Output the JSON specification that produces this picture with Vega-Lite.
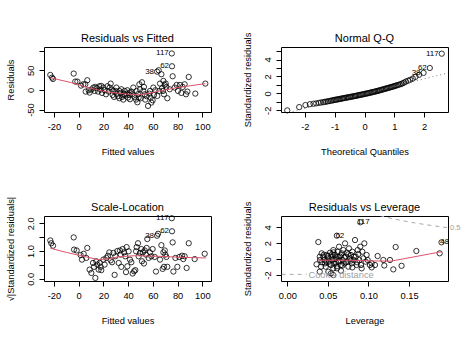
{
  "$schema": "https://vega.github.io/schema/vega-lite/v6.json",
  "padding": {"left": 5, "top": 31, "right": 0, "bottom": 0},
  "columns": 2,
  "spacing": {"row": 104, "column": 70},
  "bounds": "flush",
  "datasets": {
    "rvf": [
      {"x":-22.9,"y":38.1},{"x":-21.5,"y":31.3},{"x":-20.7,"y":27.9},{"x":-4.0,"y":41.5},{"x":-2.7,"y":21.2},{"x":-1.0,"y":21.2},{"x":1.9,"y":11.0},{"x":3.8,"y":14.4},{"x":5.4,"y":14.4},{"x":7.0,"y":24.6},{"x":5.7,"y":-4.2},{"x":8.1,"y":-0.8},{"x":10.3,"y":0.9},{"x":11.9,"y":6.0},{"x":13.5,"y":7.6},{"x":14.6,"y":4.3},{"x":15.7,"y":-4.2},{"x":16.7,"y":9.3},{"x":17.8,"y":0.9},{"x":18.9,"y":-7.6},{"x":20.0,"y":6.0},{"x":21.0,"y":-0.8},{"x":22.1,"y":-11.0},{"x":23.2,"y":9.3},{"x":24.3,"y":-4.2},{"x":25.9,"y":16.1},{"x":27.0,"y":0.9},{"x":27.5,"y":-12.7},{"x":28.6,"y":-17.7},{"x":29.7,"y":-2.5},{"x":30.7,"y":-9.3},{"x":31.8,"y":-16.0},{"x":32.9,"y":-21.1},{"x":34.0,"y":-7.6},{"x":35.1,"y":-17.7},{"x":36.1,"y":-24.5},{"x":37.2,"y":-2.5},{"x":37.7,"y":-14.3},{"x":38.8,"y":-9.3},{"x":39.9,"y":-19.4},{"x":41.0,"y":-12.7},{"x":42.6,"y":-4.2},{"x":44.2,"y":6.0},{"x":45.3,"y":-17.7},{"x":46.4,"y":-24.5},{"x":47.5,"y":-31.3},{"x":48.0,"y":-11.0},{"x":49.1,"y":14.4},{"x":50.1,"y":-21.1},{"x":51.2,"y":19.5},{"x":52.3,"y":-2.5},{"x":52.8,"y":7.6},{"x":53.9,"y":-24.5},{"x":55.0,"y":-16.0},{"x":56.1,"y":-40.6},{"x":57.2,"y":-9.3},{"x":58.2,"y":-19.4},{"x":59.8,"y":-26.2},{"x":60.9,"y":-12.7},{"x":62.0,"y":-0.8},{"x":63.4,"y":46.5,"lab":"38"},{"x":64.7,"y":49.9},{"x":65.8,"y":16.1},{"x":66.9,"y":39.8},{"x":67.4,"y":4.3},{"x":68.5,"y":22.9},{"x":69.0,"y":-11.0},{"x":69.6,"y":12.7},{"x":70.4,"y":16.1},{"x":70.9,"y":7.6},{"x":71.7,"y":-21.1},{"x":75.5,"y":60.1,"lab":"62"},{"x":75.3,"y":92.6,"lab":"117"},{"x":76.0,"y":34.7},{"x":77.6,"y":6.0},{"x":79.2,"y":12.7},{"x":80.3,"y":-2.5},{"x":81.9,"y":12.7},{"x":83.0,"y":-7.6},{"x":84.1,"y":7.6},{"x":85.7,"y":14.4},{"x":86.8,"y":-11.0},{"x":87.9,"y":-4.2},{"x":89.0,"y":33.0},{"x":94.3,"y":-9.3},{"x":102.4,"y":16.1},
      {"x":8.9,"y":-6.7},{"x":13.0,"y":-2.5},{"x":18.3,"y":10.2},{"x":25.1,"y":6.0},{"x":30.5,"y":6.0},{"x":34.5,"y":1.7},{"x":36.7,"y":-11.0},{"x":39.4,"y":-0.8},{"x":41.5,"y":-23.7},{"x":43.4,"y":-11.0},{"x":46.9,"y":-2.5},{"x":49.6,"y":1.7},{"x":53.4,"y":-11.0},{"x":57.7,"y":-2.5},{"x":58.8,"y":-32.1},{"x":60.4,"y":6.0},{"x":63.6,"y":-15.2},{"x":65.2,"y":-2.5},{"x":73.6,"y":1.7},{"x":68.2,"y":-2.5},{"x":48.5,"y":-19.4},{"x":28.1,"y":-2.5},{"x":32.9,"y":-2.5},{"x":41.3,"y":-6.7}
    ],
    "rvfLine": [
      {"x":-22.9,"y":31},{"x":-5.9,"y":18.6},{"x":7.6,"y":6},{"x":21,"y":-4},{"x":34.5,"y":-9.3},{"x":48,"y":-12.5},{"x":56,"y":-9},{"x":65,"y":-3},{"x":80,"y":6},{"x":102.4,"y":16}
    ],
    "qq": [
      {"x":-2.59,"y":-2.01},{"x":-2.19,"y":-1.62},{"x":-1.98,"y":-1.38},{"x":-1.83,"y":-1.28},{"x":-1.71,"y":-1.22},{"x":-1.62,"y":-1.18},{"x":-1.53,"y":-1.12},{"x":-1.46,"y":-1.08},{"x":-1.39,"y":-1.04},{"x":-1.33,"y":-1.0},{"x":-1.28,"y":-0.97},{"x":-1.23,"y":-0.94},{"x":-1.18,"y":-0.9},{"x":-1.13,"y":-0.87},{"x":-1.08,"y":-0.83},{"x":-1.04,"y":-0.8},{"x":-1.0,"y":-0.77},{"x":-0.96,"y":-0.74},{"x":-0.92,"y":-0.72},{"x":-0.88,"y":-0.69},{"x":-0.84,"y":-0.67},{"x":-0.8,"y":-0.64},{"x":-0.76,"y":-0.61},{"x":-0.72,"y":-0.58},{"x":-0.68,"y":-0.55},{"x":-0.64,"y":-0.53},{"x":-0.6,"y":-0.5},{"x":-0.56,"y":-0.47},{"x":-0.52,"y":-0.45},{"x":-0.48,"y":-0.42},{"x":-0.44,"y":-0.39},{"x":-0.4,"y":-0.37},{"x":-0.36,"y":-0.34},{"x":-0.32,"y":-0.31},{"x":-0.28,"y":-0.28},{"x":-0.24,"y":-0.25},{"x":-0.2,"y":-0.22},{"x":-0.16,"y":-0.19},{"x":-0.12,"y":-0.16},{"x":-0.08,"y":-0.13},{"x":-0.04,"y":-0.1},{"x":0,"y":-0.07},{"x":0.04,"y":-0.04},{"x":0.08,"y":-0.01},{"x":0.12,"y":0.02},{"x":0.16,"y":0.05},{"x":0.2,"y":0.09},{"x":0.24,"y":0.12},{"x":0.28,"y":0.15},{"x":0.32,"y":0.19},{"x":0.36,"y":0.22},{"x":0.4,"y":0.26},{"x":0.44,"y":0.29},{"x":0.48,"y":0.33},{"x":0.52,"y":0.37},{"x":0.56,"y":0.41},{"x":0.6,"y":0.45},{"x":0.64,"y":0.49},{"x":0.68,"y":0.53},{"x":0.72,"y":0.57},{"x":0.76,"y":0.61},{"x":0.8,"y":0.65},{"x":0.84,"y":0.69},{"x":0.88,"y":0.73},{"x":0.92,"y":0.77},{"x":0.96,"y":0.81},{"x":1.0,"y":0.86},{"x":1.04,"y":0.9},{"x":1.08,"y":0.95},{"x":1.13,"y":1.0},{"x":1.18,"y":1.06},{"x":1.23,"y":1.1},{"x":1.28,"y":1.2},{"x":1.33,"y":1.28},{"x":1.39,"y":1.4},{"x":1.46,"y":1.5},{"x":1.53,"y":1.6},{"x":1.62,"y":1.75},{"x":1.71,"y":1.95},{"x":1.83,"y":2.2},{"x":1.98,"y":2.42,"lab":"38"},{"x":2.19,"y":3.0,"lab":"62"},{"x":2.59,"y":4.69,"lab":"117"}
    ],
    "qqLine": [{"x":-2.8,"y":-2.48},{"x":2.8,"y":2.42}],
    "sl": [
      {"x":-22.9,"y":1.38},{"x":-22.1,"y":1.28},{"x":-20.7,"y":1.19},{"x":-4.0,"y":1.49},{"x":-3.7,"y":1.05},{"x":-1.6,"y":1.02},{"x":1.6,"y":0.855},{"x":2.7,"y":0.69},{"x":4.1,"y":0.9},{"x":7.0,"y":1.11},{"x":6.2,"y":0.75},{"x":8.9,"y":0.33},{"x":10.3,"y":0.21},{"x":11.6,"y":0.57},{"x":12.4,"y":0.43},{"x":13.5,"y":0.03},{"x":14.3,"y":0.63},{"x":15.1,"y":0.51},{"x":16.2,"y":0.33},{"x":17.0,"y":0.57},{"x":17.8,"y":0.43},{"x":18.3,"y":0.31},{"x":20.0,"y":0.69},{"x":21.0,"y":0.51},{"x":22.4,"y":0.75},{"x":23.7,"y":0.83},{"x":24.8,"y":0.95},{"x":25.9,"y":0.665},{"x":27.0,"y":0.595},{"x":28.1,"y":0.93},{"x":29.1,"y":0.14},{"x":29.7,"y":0.81},{"x":31.3,"y":1.0},{"x":32.4,"y":0.57},{"x":33.4,"y":1.02},{"x":34.0,"y":0.87},{"x":34.5,"y":0.43},{"x":35.6,"y":1.07},{"x":36.7,"y":0.95},{"x":37.7,"y":0.81},{"x":38.3,"y":0.24},{"x":38.8,"y":1.14},{"x":39.4,"y":0.45},{"x":40.4,"y":0.99},{"x":41.5,"y":0.69},{"x":42.6,"y":0.595},{"x":43.7,"y":0.19},{"x":44.8,"y":0.27},{"x":45.8,"y":0.31},{"x":46.4,"y":0.99},{"x":46.9,"y":1.14},{"x":48.0,"y":1.28},{"x":48.5,"y":0.81},{"x":49.6,"y":0.93},{"x":50.7,"y":1.07},{"x":51.2,"y":0.63},{"x":52.0,"y":0.95},{"x":52.8,"y":0.55},{"x":53.4,"y":1.02},{"x":54.5,"y":0.87},{"x":55.0,"y":1.11},{"x":55.5,"y":1.43},{"x":56.6,"y":0.75},{"x":57.7,"y":0.95},{"x":58.8,"y":0.81},{"x":59.8,"y":1.07},{"x":61.5,"y":0.785},{"x":62.5,"y":0.26},{"x":63.4,"y":1.55,"lab":"38"},{"x":64.2,"y":1.62},{"x":65.8,"y":0.69},{"x":66.9,"y":1.21},{"x":67.9,"y":0.355},{"x":68.5,"y":0.95},{"x":69.0,"y":0.43},{"x":69.6,"y":1.02},{"x":70.1,"y":0.87},{"x":70.9,"y":0.785},{"x":71.7,"y":0.43},{"x":75.5,"y":1.71,"lab":"62"},{"x":75.3,"y":2.18,"lab":"117"},{"x":76.0,"y":1.31},{"x":76.6,"y":0.26},{"x":78.2,"y":0.75},{"x":79.8,"y":0.43},{"x":81.4,"y":0.785},{"x":83.6,"y":0.83},{"x":84.6,"y":0.71},{"x":85.7,"y":0.81},{"x":87.3,"y":0.39},{"x":89.0,"y":1.28},{"x":93.8,"y":0.71},{"x":101.9,"y":0.9}
    ],
    "slLine": [
      {"x":-22.9,"y":1.1},{"x":-10,"y":0.95},{"x":0,"y":0.85},{"x":15.7,"y":0.69},{"x":25,"y":0.72},{"x":31.8,"y":0.79},{"x":45,"y":0.83},{"x":56,"y":0.82},{"x":70,"y":0.8},{"x":85,"y":0.77},{"x":103,"y":0.75}
    ],
    "rvl": [
      {"x":0.0900,"y":4.63,"lab":"117"},{"x":0.0610,"y":2.95,"lab":"62"},{"x":0.190,"y":2.11,"lab":"48"},{"x":0.0382,"y":2.15},{"x":0.1877,"y":0.73},{"x":0.159,"y":1.02},{"x":0.1335,"y":1.52},{"x":0.1113,"y":0.39},{"x":0.1183,"y":-0.11},{"x":0.1265,"y":-0.11},{"x":0.1195,"y":-0.8},{"x":0.1306,"y":-1.29},{"x":0.1408,"y":-0.84},{"x":0.108,"y":-0.74},{"x":0.1039,"y":-1.04},
      {"x":0.0423,"y":0.73},{"x":0.0444,"y":0.31},{"x":0.0456,"y":-0.11},{"x":0.0464,"y":-0.53},{"x":0.0473,"y":-0.95},{"x":0.0485,"y":0.52},{"x":0.0505,"y":0.1},{"x":0.0514,"y":-0.32},{"x":0.0526,"y":0.81},{"x":0.0538,"y":-0.74},{"x":0.0546,"y":0.31},{"x":0.0555,"y":-0.11},{"x":0.0567,"y":1.14},{"x":0.0579,"y":-0.53},{"x":0.0587,"y":0.52},{"x":0.06,"y":0.1},{"x":0.0612,"y":-1.16},{"x":0.062,"y":0.93},{"x":0.0628,"y":-0.32},{"x":0.0637,"y":1.56},{"x":0.0649,"y":0.31},{"x":0.0661,"y":-0.74},{"x":0.067,"y":0.73},{"x":0.0682,"y":-0.11},{"x":0.069,"y":1.14},{"x":0.0702,"y":-0.53},{"x":0.0711,"y":1.98},{"x":0.0719,"y":0.31},{"x":0.0731,"y":0.81},{"x":0.0743,"y":-0.32},{"x":0.0752,"y":-0.95},{"x":0.076,"y":1.35},{"x":0.0772,"y":0.1},{"x":0.0784,"y":0.52},{"x":0.0793,"y":-0.53},{"x":0.0801,"y":0.93},{"x":0.0817,"y":-0.11},{"x":0.0834,"y":2.4},{"x":0.0842,"y":0.31},{"x":0.0854,"y":-0.74},{"x":0.0867,"y":1.14},{"x":0.0875,"y":0.64},{"x":0.0887,"y":-0.11},{"x":0.0899,"y":1.56},{"x":0.0908,"y":-0.74},{"x":0.0924,"y":0.93},{"x":0.0936,"y":0.1},{"x":0.0949,"y":1.98},{"x":0.0965,"y":-0.32},{"x":0.0977,"y":0.52},{"x":0.099,"y":-0.11},{"x":0.1018,"y":-0.74},{"x":0.1039,"y":-0.53},
      {"x":0.0505,"y":-1.58},{"x":0.0538,"y":-1.79},{"x":0.0567,"y":-1.16},{"x":0.0661,"y":-1.46},{"x":0.0801,"y":-1.04},{"x":0.0916,"y":-1.16},{"x":0.0567,"y":-2.0},{"x":0.0403,"y":-0.11},{"x":0.0415,"y":-0.95},{"x":0.0399,"y":-1.58},{"x":0.036,"y":-0.65},
      {"x":0.045,"y":0.55},{"x":0.048,"y":-0.3},{"x":0.05,"y":0.4},{"x":0.052,"y":-0.6},{"x":0.055,"y":0.6},{"x":0.058,"y":0.0},{"x":0.06,"y":-0.4},{"x":0.062,"y":0.3},{"x":0.064,"y":-0.2},{"x":0.066,"y":0.5},{"x":0.068,"y":-0.8},{"x":0.07,"y":0.2},{"x":0.072,"y":-0.4},{"x":0.075,"y":0.6},{"x":0.078,"y":-0.2},{"x":0.082,"y":0.3},{"x":0.086,"y":-0.4},{"x":0.04,"y":0.3},{"x":0.043,"y":-0.4},{"x":0.057,"y":0.85},{"x":0.061,"y":-0.9}
    ],
    "rvlLine": [{"x":0.038,"y":-0.15},{"x":0.06,"y":-0.12},{"x":0.08,"y":-0.15},{"x":0.1,"y":-0.22},{"x":0.128,"y":-0.25},{"x":0.19,"y":0.93}],
    "cook": [{"x":0.105,"y":5.74},{"x":0.115,"y":5.44},{"x":0.13,"y":5.08},{"x":0.15,"y":4.67},{"x":0.17,"y":4.34},{"x":0.19,"y":4.05},{"x":0.198,"y":3.95}]
  },
  "concat": [
    {
      "width": 167, "height": 65,
      "title": {"text": "Residuals vs Fitted"},
      "layer": [
        {"data": {"name": "rvf"},
         "mark": {"type": "point", "shape": "circle", "filled": false, "color": "black", "size": 28, "strokeWidth": 0.8, "opacity": 1},
         "encoding": {
           "x": {"field": "x", "type": "quantitative", "title": "Fitted values", "scale": {"domain": [-28, 107], "nice": false, "zero": false}, "axis": {"values": [-20, 0, 20, 40, 60, 80, 100], "tickCount": 30, "format": "d", "labelExpr": "replace(datum.label, '−', '-')"}},
           "y": {"field": "y", "type": "quantitative", "title": "Residuals", "scale": {"domain": [-56, 109], "nice": false, "zero": false}, "axis": {"values": [-50, 0, 50, 100], "tickCount": 30, "format": "d", "labelExpr": "datum.value == 100 ? '' : replace(datum.label, '−', '-')", "labelAngle": 270, "labelAlign": "center", "labelBaseline": "bottom"}}
         }},
        {"mark": {"type": "rule", "color": "#BEBEBE", "strokeDash": [1, 3]},
         "encoding": {"y": {"datum": 0, "type": "quantitative", "scale": {"domain": [-56, 109], "nice": false, "zero": false}}}},
        {"data": {"name": "rvfLine"},
         "mark": {"type": "line", "color": "#DF536B", "strokeWidth": 1},
         "encoding": {
           "x": {"field": "x", "type": "quantitative", "title": "Fitted values", "scale": {"domain": [-28, 107], "nice": false, "zero": false}},
           "y": {"field": "y", "type": "quantitative", "title": "Residuals", "scale": {"domain": [-56, 109], "nice": false, "zero": false}}
         }},
        {"data": {"name": "rvf"},
         "transform": [{"filter": "datum.lab"}],
         "mark": {"type": "text", "align": "right", "baseline": "middle", "dx": -3, "fontSize": 8, "color": "black"},
         "encoding": {
           "x": {"field": "x", "type": "quantitative", "title": "Fitted values", "scale": {"domain": [-28, 107], "nice": false, "zero": false}},
           "y": {"field": "y", "type": "quantitative", "title": "Residuals", "scale": {"domain": [-56, 109], "nice": false, "zero": false}},
           "text": {"field": "lab"}
         }}
      ]
    },
    {
      "width": 167, "height": 65,
      "title": {"text": "Normal Q-Q", "dy": 15},
      "layer": [
        {"data": {"name": "qq"},
         "mark": {"type": "point", "shape": "circle", "filled": false, "color": "black", "size": 28, "strokeWidth": 0.8, "opacity": 1},
         "encoding": {
           "x": {"field": "x", "type": "quantitative", "title": "Theoretical Quantiles", "scale": {"domain": [-2.8, 2.8], "nice": false, "zero": false}, "axis": {"values": [-2, -1, 0, 1, 2], "tickCount": 30, "format": "d", "labelExpr": "replace(datum.label, '−', '-')"}},
           "y": {"field": "y", "type": "quantitative", "title": "Standardized residuals", "scale": {"domain": [-2.2, 5.48], "nice": false, "zero": false}, "axis": {"values": [-2, -1, 0, 1, 2, 3, 4, 5], "tickCount": 30, "format": "d", "labelExpr": "datum.value % 2 == 0 ? replace(datum.label, '−', '-') : ''", "labelAngle": 270, "labelAlign": "center", "labelBaseline": "bottom"}}
         }},
        {"data": {"name": "qqLine"},
         "mark": {"type": "line", "color": "#7F7F7F", "strokeDash": [1, 3], "strokeWidth": 1, "clip": true},
         "encoding": {
           "x": {"field": "x", "type": "quantitative", "title": "Theoretical Quantiles", "scale": {"domain": [-2.8, 2.8], "nice": false, "zero": false}},
           "y": {"field": "y", "type": "quantitative", "title": "Standardized residuals", "scale": {"domain": [-2.2, 5.48], "nice": false, "zero": false}}
         }},
        {"data": {"name": "qq"},
         "transform": [{"filter": "datum.lab"}],
         "mark": {"type": "text", "align": "right", "baseline": "middle", "dx": -3, "fontSize": 8, "color": "black"},
         "encoding": {
           "x": {"field": "x", "type": "quantitative", "title": "Theoretical Quantiles", "scale": {"domain": [-2.8, 2.8], "nice": false, "zero": false}},
           "y": {"field": "y", "type": "quantitative", "title": "Standardized residuals", "scale": {"domain": [-2.2, 5.48], "nice": false, "zero": false}},
           "text": {"field": "lab"}
         }}
      ]
    },
    {
      "width": 167, "height": 65,
      "title": {"text": "Scale-Location", "dy": 20},
      "layer": [
        {"data": {"name": "sl"},
         "mark": {"type": "point", "shape": "circle", "filled": false, "color": "black", "size": 28, "strokeWidth": 0.8, "opacity": 1},
         "encoding": {
           "x": {"field": "x", "type": "quantitative", "title": "Fitted values", "scale": {"domain": [-28, 107], "nice": false, "zero": false}, "axis": {"values": [-20, 0, 20, 40, 60, 80, 100], "tickCount": 30, "format": "d", "labelExpr": "replace(datum.label, '−', '-')"}},
           "y": {"field": "y", "type": "quantitative", "title": "√|Standardized residuals|", "scale": {"domain": [-0.08, 2.26], "nice": false, "zero": false}, "axis": {"values": [0, 0.5, 1, 1.5, 2], "tickCount": 30, "format": ".1f", "labelExpr": "datum.value == 0.5 || datum.value == 1.5 ? '' : datum.label", "labelAngle": 270, "labelAlign": "center", "labelBaseline": "bottom"}}
         }},
        {"data": {"name": "slLine"},
         "mark": {"type": "line", "color": "#DF536B", "strokeWidth": 1},
         "encoding": {
           "x": {"field": "x", "type": "quantitative", "title": "Fitted values", "scale": {"domain": [-28, 107], "nice": false, "zero": false}},
           "y": {"field": "y", "type": "quantitative", "title": "√|Standardized residuals|", "scale": {"domain": [-0.08, 2.26], "nice": false, "zero": false}}
         }},
        {"data": {"name": "sl"},
         "transform": [{"filter": "datum.lab"}],
         "mark": {"type": "text", "align": "right", "baseline": "middle", "dx": -3, "fontSize": 8, "color": "black"},
         "encoding": {
           "x": {"field": "x", "type": "quantitative", "title": "Fitted values", "scale": {"domain": [-28, 107], "nice": false, "zero": false}},
           "y": {"field": "y", "type": "quantitative", "title": "√|Standardized residuals|", "scale": {"domain": [-0.08, 2.26], "nice": false, "zero": false}},
           "text": {"field": "lab"}
         }}
      ]
    },
    {
      "width": 167, "height": 65,
      "title": {"text": "Residuals vs Leverage", "dy": 15},
      "layer": [
        {"data": {"name": "rvl"},
         "mark": {"type": "point", "shape": "circle", "filled": false, "color": "black", "size": 28, "strokeWidth": 0.8, "opacity": 1},
         "encoding": {
           "x": {"field": "x", "type": "quantitative", "title": "Leverage", "scale": {"domain": [-0.0078, 0.198], "nice": false, "zero": false}, "axis": {"values": [0, 0.05, 0.1, 0.15], "tickCount": 30, "format": ".2f"}},
           "y": {"field": "y", "type": "quantitative", "title": "Standardized residuals", "scale": {"domain": [-2.75, 5.42], "nice": false, "zero": false}, "axis": {"values": [-2, 0, 2, 4], "tickCount": 30, "format": "d", "labelExpr": "replace(datum.label, '−', '-')", "labelAngle": 270, "labelAlign": "center", "labelBaseline": "bottom"}}
         }},
        {"mark": {"type": "rule", "color": "#BEBEBE", "strokeDash": [1, 3]},
         "encoding": {"y": {"datum": 0, "type": "quantitative", "scale": {"domain": [-2.75, 5.42], "nice": false, "zero": false}}}},
        {"mark": {"type": "rule", "color": "#BEBEBE", "strokeDash": [1, 3]},
         "encoding": {"x": {"datum": 0, "type": "quantitative", "scale": {"domain": [-0.0078, 0.198], "nice": false, "zero": false}}}},
        {"data": {"name": "cook"},
         "mark": {"type": "line", "color": "#A8A8A8", "strokeDash": [4, 4], "strokeWidth": 1, "clip": true},
         "encoding": {
           "x": {"field": "x", "type": "quantitative", "title": "Leverage", "scale": {"domain": [-0.0078, 0.198], "nice": false, "zero": false}},
           "y": {"field": "y", "type": "quantitative", "title": "Standardized residuals", "scale": {"domain": [-2.75, 5.42], "nice": false, "zero": false}}
         }},
        {"data": {"values": [{"x": -0.0069, "x2": 0.0239, "y": -1.91}]},
         "mark": {"type": "rule", "color": "#A8A8A8", "strokeDash": [4, 4], "strokeWidth": 1},
         "encoding": {
           "x": {"field": "x", "type": "quantitative", "title": "Leverage", "scale": {"domain": [-0.0078, 0.198], "nice": false, "zero": false}},
           "x2": {"field": "x2"},
           "y": {"field": "y", "type": "quantitative", "title": "Standardized residuals", "scale": {"domain": [-2.75, 5.42], "nice": false, "zero": false}}
         }},
        {"data": {"values": [{"x": 0.026, "y": -2.0, "t": "Cook's distance"}, {"x": 0.2005, "y": 3.85, "t": "0.5"}]},
         "mark": {"type": "text", "align": "left", "baseline": "middle", "color": "#A0A0A0", "fontSize": 9.3},
         "encoding": {
           "x": {"field": "x", "type": "quantitative", "title": "Leverage", "scale": {"domain": [-0.0078, 0.198], "nice": false, "zero": false}},
           "y": {"field": "y", "type": "quantitative", "title": "Standardized residuals", "scale": {"domain": [-2.75, 5.42], "nice": false, "zero": false}},
           "text": {"field": "t"},
           "size": {"condition": {"test": "datum.t == '0.5'", "value": 7.5}, "value": 9.3}
         }},
        {"data": {"name": "rvlLine"},
         "mark": {"type": "line", "color": "#DF536B", "strokeWidth": 1},
         "encoding": {
           "x": {"field": "x", "type": "quantitative", "title": "Leverage", "scale": {"domain": [-0.0078, 0.198], "nice": false, "zero": false}},
           "y": {"field": "y", "type": "quantitative", "title": "Standardized residuals", "scale": {"domain": [-2.75, 5.42], "nice": false, "zero": false}}
         }},
        {"data": {"name": "rvl"},
         "transform": [{"filter": "datum.lab"}],
         "mark": {"type": "text", "baseline": "middle", "fontSize": 8, "color": "black"},
         "encoding": {
           "x": {"field": "x", "type": "quantitative", "title": "Leverage", "scale": {"domain": [-0.0078, 0.198], "nice": false, "zero": false}},
           "y": {"field": "y", "type": "quantitative", "title": "Standardized residuals", "scale": {"domain": [-2.75, 5.42], "nice": false, "zero": false}},
           "text": {"field": "lab"},
           "align": {"condition": {"test": "datum.lab == '48'", "value": "right"}, "value": "left"},
           "xOffset": {"condition": {"test": "datum.lab == '48'", "value": -3}, "value": 3}
         }}
      ]
    }
  ],
  "config": {
    "font": "Liberation Sans",
    "view": {"stroke": "black", "strokeWidth": 1},
    "title": {"fontSize": 11, "fontWeight": "normal", "color": "black", "offset": 3, "font": "Liberation Sans"},
    "axis": {"domain": false, "grid": false, "tickColor": "black", "tickSize": 5, "tickCount": 30, "labelFontSize": 9.3, "labelColor": "black", "titleFontSize": 9.3, "titleFontWeight": "normal", "titleColor": "black", "labelFlush": false, "labelOverlap": false, "labelFont": "Liberation Sans", "titleFont": "Liberation Sans"},
    "axisX": {"labelPadding": 5, "titlePadding": 16},
    "axisY": {"labelPadding": 4, "titlePadding": 11}
  }
}
